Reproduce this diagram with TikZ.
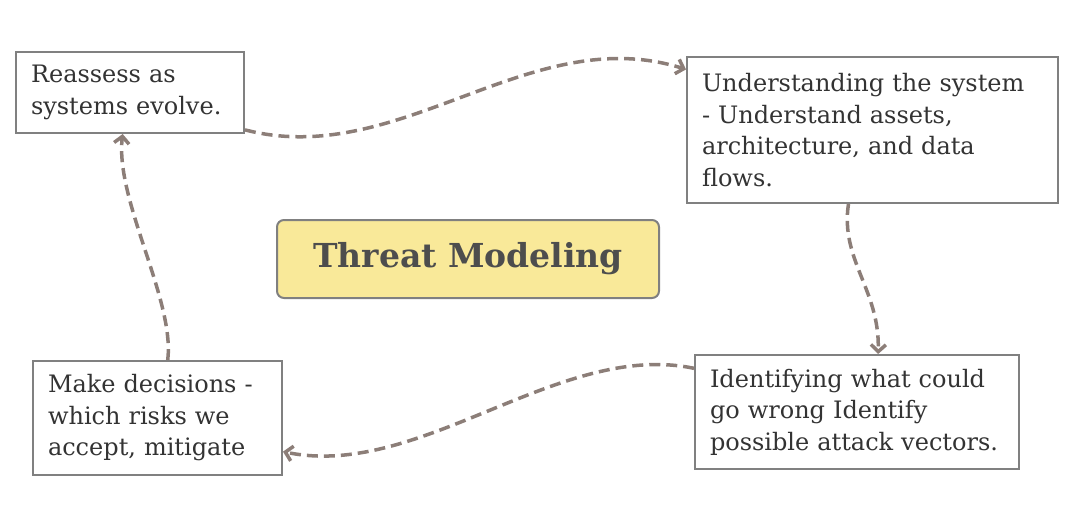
\documentclass[tikz,border=0pt]{standalone}
\usepackage{fontspec}
\setmainfont{DejaVu Serif}
\usepackage{tikz}
\usetikzlibrary{arrows.meta, positioning}
\definecolor{boxgray}{HTML}{808080}
\definecolor{flowbrown}{HTML}{8C7E78}
\definecolor{textdark}{HTML}{333333}
\definecolor{titlefill}{HTML}{F9E999}
\definecolor{titletext}{HTML}{4D4D4D}

\begin{document}
\begin{tikzpicture}[x=1pt, y=-1pt]
    \tikzstyle{stage} = [rectangle, draw=boxgray, line width=2pt, fill=white, text=textdark, align=left, inner xsep=15pt, inner ysep=0pt, font=\fontsize{24}{31.5}\selectfont]
    \tikzstyle{title} = [rectangle, draw=boxgray, line width=2pt, fill=titlefill, text=titletext, rounded corners=7pt, minimum width=382pt, minimum height=78pt, font=\fontsize{33}{40}\selectfont\bfseries]
    \tikzstyle{flow} = [line width=3.5pt, draw=flowbrown, dash pattern=on 11pt off 6pt, -{Straight Barb[length=7pt, width=15pt]}]

    \useasboundingbox (0,0) rectangle (1075,507);

    \node [title] (threat) at (468,259) {Threat Modeling};

    \node [stage, text width=198pt, minimum height=81pt] (reassess) at (130,92.5) {Reassess as\\systems evolve.};
    \node [stage, text width=341pt, minimum height=146pt] (understand) at (872.5,130) {Understanding the system\\- Understand assets,\\architecture, and data\\flows.};
    \node [stage, text width=294pt, minimum height=114pt] (identify) at (857,412) {Identifying what could\\go wrong Identify\\possible attack vectors.};
    \node [stage, text width=219pt, minimum height=114pt] (decide) at (157.5,418) {Make decisions -\\which risks we\\accept, mitigate};

    \draw [flow] (reassess.-18) .. controls (400,170) and (530,20) .. (understand.162);
    \draw [flow] (understand.-108) .. controls (840,260) and (880,290) .. (identify.70);
    \draw [flow] (identify.165) .. controls (560,340) and (420,480) .. (decide.-15);
    \draw [flow] (decide.80) .. controls (175,300) and (115,200) .. (reassess.-100);
\end{tikzpicture}
\end{document}
